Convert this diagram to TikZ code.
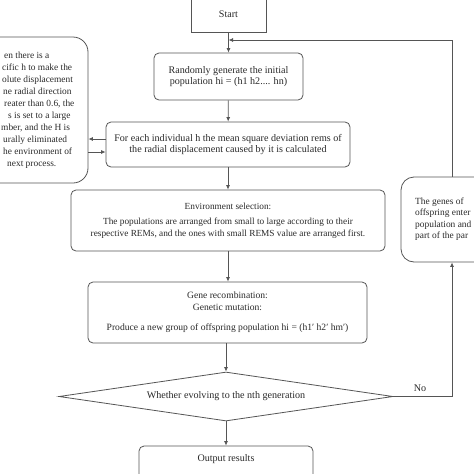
\documentclass[tikz,border=0pt]{standalone}
\usepackage{fontspec}
\setmainfont{Liberation Serif}
\usetikzlibrary{shapes.geometric,arrows.meta}
\definecolor{linec}{HTML}{555555}
\definecolor{textc}{HTML}{2A2A2A}
\newcommand{\fs}{\fontsize{10.1}{11.6}\selectfont}
\newcommand{\fsenv}{\fontsize{9.3}{11.4}\selectfont}
\newcommand{\fsgene}{\fontsize{9.6}{11.4}\selectfont}
\newcommand{\fsside}{\fontsize{9.4}{12}\selectfont}
\tikzset{
  box/.style={draw=linec, line width=0.8pt, rounded corners=5pt, inner sep=0pt, align=center, font=\fs, text=textc},
  arr/.style={draw=linec, line width=0.8pt, -{Latex[length=4.5pt,width=4pt]}},
  frag/.style={anchor=base west, inner sep=0pt, font=\fsside, text=textc},
  decision/.style={draw=linec, line width=0.8pt, diamond, shape aspect=6.8, inner sep=0pt, font=\fs, text=textc, minimum width=334, minimum height=49},
}
\begin{document}
\begin{tikzpicture}[x=1pt,y=-1pt]
\useasboundingbox (0,0) rectangle (474,474);
\clip (0,0) rectangle (474,474);
\fill[white] (0,0) rectangle (474,474);

% main boxes
\node[box, rounded corners=0pt, minimum width=75, minimum height=36] (start) at (228.5,14) {Start};
\node[box, minimum width=149, minimum height=47] (gen) at (228.5,76.5) {Randomly generate the initial\\ population hi = (h1 h2.... hn)};
\node[box, minimum width=244, minimum height=45] (calc) at (228,144.5) {For each individual h the mean square deviation rems of\\ the radial displacement caused by it is calculated};
\node[box, font=\fsenv, minimum width=314, minimum height=61] (env) at (228,220.5) {Environment selection:\\[4pt] The populations are arranged from small to large according to their\\ respective REMs, and the ones with small REMS value are arranged first.};
\node[box, font=\fsgene, minimum width=279, minimum height=61] (gene) at (227.5,312.5) {Gene recombination:\\ Genetic mutation:\\[9pt] Produce a new group of offspring population hi = (h1′ h2′ hm′)};
\node[decision] (dia) at (226,396.5) {Whether evolving to the nth generation};
\node[box, minimum width=174, minimum height=44] (out) at (226,468) {};
\node[inner sep=0pt, font=\fs, text=textc] (outt) at (226,459) {Output results};

% side boxes
\node[box, rounded corners=15pt, minimum width=118, minimum height=146] (left) at (29,110) {};
\node[box, rounded corners=13pt, minimum width=118, minimum height=85] (genes) at (460,219.5) {};

% left fragments
\node[frag] (l1) at (4,58) {en there is a};
\node[frag] (l2) at (2,70) {cific h to make the};
\node[frag] (l3) at (2,82) {olute displacement};
\node[frag] (l4) at (3,94) {ne radial direction};
\node[frag] (l5) at (4,106) {reater than 0.6, the};
\node[frag] (l6) at (8,118) {s is set to a large};
\node[frag] (l7) at (1,130) {mber, and the H is};
\node[frag] (l8) at (3,142) {urally eliminated};
\node[frag] (l9) at (3,154) {he environment of};
\node[frag] (l10) at (7,166) {next process.};

% right fragments
\node[frag] (r1) at (415,204) {The genes of};
\node[frag] (r2) at (415,215.5) {offspring enter};
\node[frag] (r3) at (415,227) {population and};
\node[frag] (r4) at (415,238.5) {part of the par};

% connectors
\coordinate (j) at (228.5,40);
\coordinate (c1) at (452,396.5);
\coordinate (c2) at (452,40);
\coordinate (ya) at (0,139);
\coordinate (yb) at (0,152);

\draw[arr] (start) -- (gen);
\draw[arr] (gen) -- (calc);
\draw[arr] (calc) -- (env);
\draw[arr] (env.south) -- (env.south |- gene.north);
\draw[arr] (dia.north |- gene.south) -- (dia.north);
\draw[arr] (dia.south) -- (dia.south |- out.north);
\draw[arr] (calc.west |- ya) -- (left.east |- ya);
\draw[arr] (left.east |- yb) -- (calc.west |- yb);
\draw[arr] (dia.east) -- (c1) -- (c1 |- genes.south);
\draw[arr] (c1 |- genes.north) -- (c2) -- (j);
\node[inner sep=0pt, font=\fs, text=textc] (no) at (420,388) {No};
\end{tikzpicture}
\end{document}
